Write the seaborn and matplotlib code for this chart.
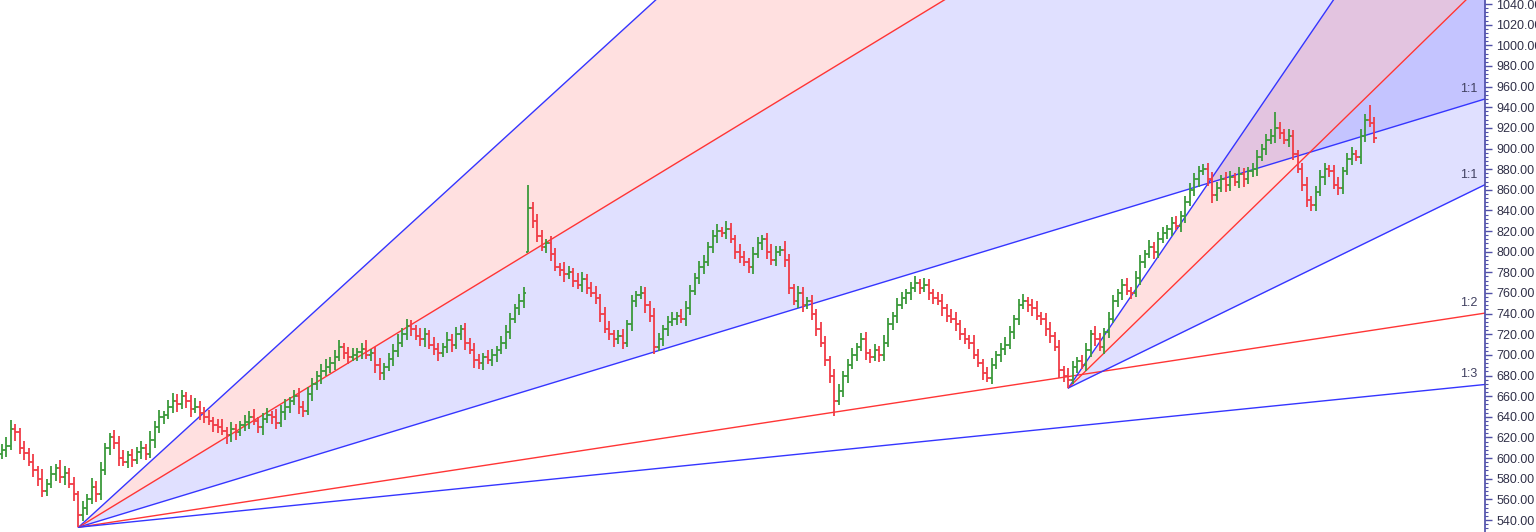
import seaborn as sns
import matplotlib.pyplot as plt
from matplotlib.ticker import MultipleLocator, FormatStrFormatter
import numpy as np
import pandas as pd

# closes, one per bar
closes = [
    608, 612, 628, 625, 610, 605, 596, 588, 580, 568, 575, 585, 590, 582, 586, 575, 565, 545, 552, 560, 572, 565, 588, 610, 620, 615, 600, 596, 603, 598,
    606, 610, 604, 618, 630, 640, 642, 650, 655, 652, 660, 655, 648, 650, 644, 640, 636, 632, 630, 626, 622, 628, 625, 632, 635, 640, 636, 630, 638, 642,
    640, 634, 645, 650, 655, 660, 650, 646, 662, 672, 680, 684, 688, 692, 698, 708, 702, 698, 700, 703, 706, 700, 702, 690, 682, 688, 696, 704, 712, 720,
    728, 725, 718, 715, 720, 710, 706, 702, 708, 714, 710, 720, 725, 712, 705, 695, 692, 698, 695, 700, 705, 712, 722, 735, 745, 752, 760, 842, 830, 815,
    805, 808, 798, 785, 782, 778, 780, 772, 768, 774, 765, 760, 755, 740, 725, 720, 715, 718, 712, 730, 752, 758, 760, 748, 738, 708, 715, 725, 732, 735,
    738, 735, 745, 762, 775, 785, 790, 805, 815, 820, 818, 822, 812, 800, 795, 790, 785, 798, 808, 812, 800, 792, 800, 802, 792, 765, 752, 760, 748, 752,
    740, 725, 712, 695, 680, 655, 665, 680, 690, 700, 708, 715, 702, 698, 705, 700, 712, 730, 738, 748, 755, 760, 765, 770, 765, 768, 760, 755, 752, 745,
    738, 735, 730, 720, 715, 712, 700, 692, 682, 678, 690, 700, 706, 710, 722, 735, 748, 752, 748, 745, 738, 735, 725, 718, 708, 685, 680, 676, 688, 694,
    690, 705, 720, 715, 708, 722, 735, 752, 760, 768, 762, 760, 775, 790, 798, 805, 800, 812, 818, 822, 828, 825, 835, 848, 860, 870, 878, 880, 870, 855,
    862, 870, 865, 872, 868, 875, 870, 878, 880, 892, 900, 908, 912, 920, 915, 908, 912, 895, 880, 865, 850, 845, 858, 872, 880, 878, 865, 862, 878, 890,
    895, 892, 912, 928, 925, 910,
]
# how far each bar's high / low reaches past its open-close body
hi_ext = [
    6, 8, 9, 5, 4, 7, 5, 8, 4, 9, 5, 7, 4, 8, 6, 4, 7, 3, 6, 5, 9, 6, 8, 5, 4, 7, 6, 8, 4, 6,
    5, 7, 4, 8, 6, 7, 4, 6, 8, 7, 6, 4, 6, 8, 5, 6, 7, 4, 6, 8, 4, 7, 5, 4, 7, 6, 8, 4, 6, 7,
    4, 8, 6, 7, 4, 6, 8, 5, 7, 6, 4, 7, 8, 6, 7, 6, 4, 6, 7, 4, 6, 8, 4, 6, 7, 4, 6, 7, 8, 6,
    7, 6, 4, 8, 6, 4, 7, 6, 4, 8, 6, 7, 4, 6, 4, 7, 6, 4, 7, 6, 4, 6, 7, 6, 4, 7, 6, 23, 6, 7,
    6, 4, 7, 6, 4, 8, 6, 4, 7, 6, 4, 6, 7, 4, 6, 8, 4, 6, 7, 4, 6, 4, 7, 6, 4, 7, 6, 4, 6, 7,
    4, 6, 7, 6, 4, 6, 7, 4, 6, 7, 4, 8, 6, 4, 7, 6, 4, 7, 6, 4, 6, 7, 6, 4, 8, 6, 4, 7, 6, 4,
    6, 4, 7, 6, 4, 6, 7, 4, 6, 7, 4, 6, 7, 4, 6, 4, 7, 6, 4, 7, 6, 4, 6, 6, 4, 7, 6, 4, 6, 7,
    4, 6, 7, 4, 6, 4, 7, 6, 4, 6, 7, 4, 6, 7, 6, 4, 6, 7, 4, 6, 7, 4, 6, 7, 4, 6, 4, 7, 6, 4,
    6, 7, 4, 8, 6, 4, 7, 6, 4, 6, 7, 4, 6, 7, 4, 6, 4, 7, 6, 4, 6, 7, 4, 6, 7, 6, 5, 5, 6, 7,
    6, 4, 7, 6, 4, 7, 6, 4, 6, 7, 4, 6, 7, 15, 6, 4, 7, 6, 4, 6, 7, 4, 6, 7, 6, 4, 6, 7, 4, 6,
    6, 4, 7, 5, 14, 6,
]
lo_ext = [
    5, 7, 4, 8, 6, 7, 4, 6, 7, 6, 5, 4, 7, 6, 8, 4, 7, 12, 6, 7, 4, 8, 6, 4, 7, 6, 8, 4, 6, 7,
    4, 7, 6, 4, 8, 6, 7, 4, 6, 7, 4, 6, 8, 4, 7, 6, 4, 7, 6, 4, 8, 6, 7, 4, 6, 7, 4, 6, 8, 4,
    7, 6, 4, 8, 6, 4, 7, 6, 4, 7, 6, 8, 4, 6, 7, 4, 6, 7, 4, 6, 7, 4, 6, 8, 6, 6, 4, 7, 6, 4,
    6, 7, 4, 6, 7, 4, 6, 8, 4, 6, 7, 4, 6, 7, 4, 8, 6, 7, 4, 6, 7, 4, 6, 7, 4, 6, 7, 0, 7, 6,
    4, 6, 7, 4, 6, 7, 4, 6, 4, 7, 6, 4, 6, 8, 4, 6, 7, 4, 6, 4, 7, 6, 4, 7, 6, 7, 4, 6, 7, 4,
    6, 4, 7, 6, 4, 6, 7, 4, 6, 7, 4, 6, 4, 7, 6, 4, 6, 7, 4, 6, 7, 5, 6, 4, 7, 6, 4, 7, 6, 4,
    6, 7, 4, 6, 7, 14, 4, 6, 7, 4, 6, 4, 7, 6, 4, 7, 6, 4, 6, 7, 4, 6, 7, 4, 6, 4, 7, 6, 4, 7,
    6, 4, 7, 6, 4, 6, 4, 4, 6, 4, 6, 4, 7, 6, 4, 7, 6, 4, 6, 7, 4, 6, 7, 6, 4, 7, 6, 8, 4, 6,
    4, 6, 7, 6, 4, 7, 6, 4, 6, 7, 4, 6, 4, 7, 6, 4, 7, 6, 4, 6, 7, 4, 6, 7, 4, 6, 7, 4, 6, 8,
    6, 4, 7, 6, 4, 6, 7, 4, 6, 7, 4, 6, 4, 7, 6, 4, 7, 6, 4, 6, 7, 6, 6, 4, 7, 6, 4, 7, 6, 4,
    6, 4, 7, 6, 4, 5,
]
first_open = 604
gap_opens = {117: 800}

# Gann fans: origin bar, origin price, price per bar of the 1:1 line
fan_origins = [(17, 533), (237, 668)]
fan_unit = [1.3276, 2.127]
fan_ratios = [(3, "3:1"), (2, "2:1"), (1, "1:1"), (0.5, "1:2"), (1 / 3, "1:3")]
fan_used = [["3:1", "2:1", "1:1", "1:2", "1:3"], ["3:1", "2:1", "1:1"]]
fan_colors = {"3:1": "#3535ff", "2:1": "#ff3535", "1:1": "#3535ff", "1:2": "#ff3535", "1:3": "#3535ff"}

xmin, xmax = -0.44, 329.6
ymin, ymax = 528.4, 1043.9

n = len(closes)
opens = [first_open] + closes[:-1]
for k, v in gap_opens.items():
    opens[k] = v
df = pd.DataFrame({"bar": np.arange(n), "open": opens, "close": closes})
df["high"] = df[["open", "close"]].max(axis=1) + np.array(hi_ext)
df["low"] = df[["open", "close"]].min(axis=1) - np.array(lo_ext)
df["up"] = df["close"] > df["open"]

sns.set_theme(style="white")
plt.rcParams["font.family"] = ["Liberation Sans", "DejaVu Sans"]

fig = plt.figure(figsize=(15.36, 5.32), dpi=100)
ax = fig.add_axes([0, 0, 1485 / 1536, 1])

# fans: fills first, then lines
for (ox, oy), unit, used in zip(fan_origins, fan_unit, fan_used):
    xs = np.array([ox, xmax])
    lines = {name: oy + r * unit * (xs - ox) for r, name in fan_ratios}
    ax.fill_between(xs, lines["3:1"], lines["2:1"], color="#ff0000", alpha=0.12, linewidth=0, zorder=1)
    ax.fill_between(xs, lines["2:1"], lines["1:1"], color="#0000ff", alpha=0.12, linewidth=0, zorder=1)
    for name in used:
        sns.lineplot(x=xs, y=lines[name], color=fan_colors[name], linewidth=1.0, ax=ax, zorder=2)
        yend = lines[name][-1]
        if yend < ymax:
            ax.text(xmax - 1.6, yend + 4, name, ha="right", va="bottom", fontsize=9, color="#404060", zorder=5)

# OHLC bars
green, red = "#3c9a3c", "#f03c46"
colors = np.where(df["up"], green, red)
ax.vlines(df["bar"], df["low"], df["high"], colors=colors, linewidth=1.3, zorder=3)
ax.hlines(df["open"], df["bar"] - 0.5, df["bar"], colors=colors, linewidth=1.3, zorder=3)
ax.hlines(df["close"], df["bar"], df["bar"] + 0.5, colors=colors, linewidth=1.3, zorder=3)

ax.set_xlim(xmin, xmax)
ax.set_ylim(ymin, ymax)
ax.set_xticks([])
ax.set_xlabel("")
ax.set_ylabel("")
ax.yaxis.tick_right()
ax.yaxis.set_major_locator(MultipleLocator(20))
ax.yaxis.set_minor_locator(MultipleLocator(4))
ax.yaxis.set_major_formatter(FormatStrFormatter("%.2f"))
ax.tick_params(axis="y", which="major", length=5, width=1, color="#5050a8", pad=3,
               labelsize=9, labelcolor="#303048", right=True, left=False)
ax.tick_params(axis="y", which="minor", length=2.5, width=0.8, color="#5050a8", right=True, left=False)
for side in ["left", "top", "bottom"]:
    ax.spines[side].set_visible(False)
ax.spines["right"].set_color("#4a4aa8")
ax.spines["right"].set_linewidth(1.2)

fig.savefig("out.png", dpi=100)
